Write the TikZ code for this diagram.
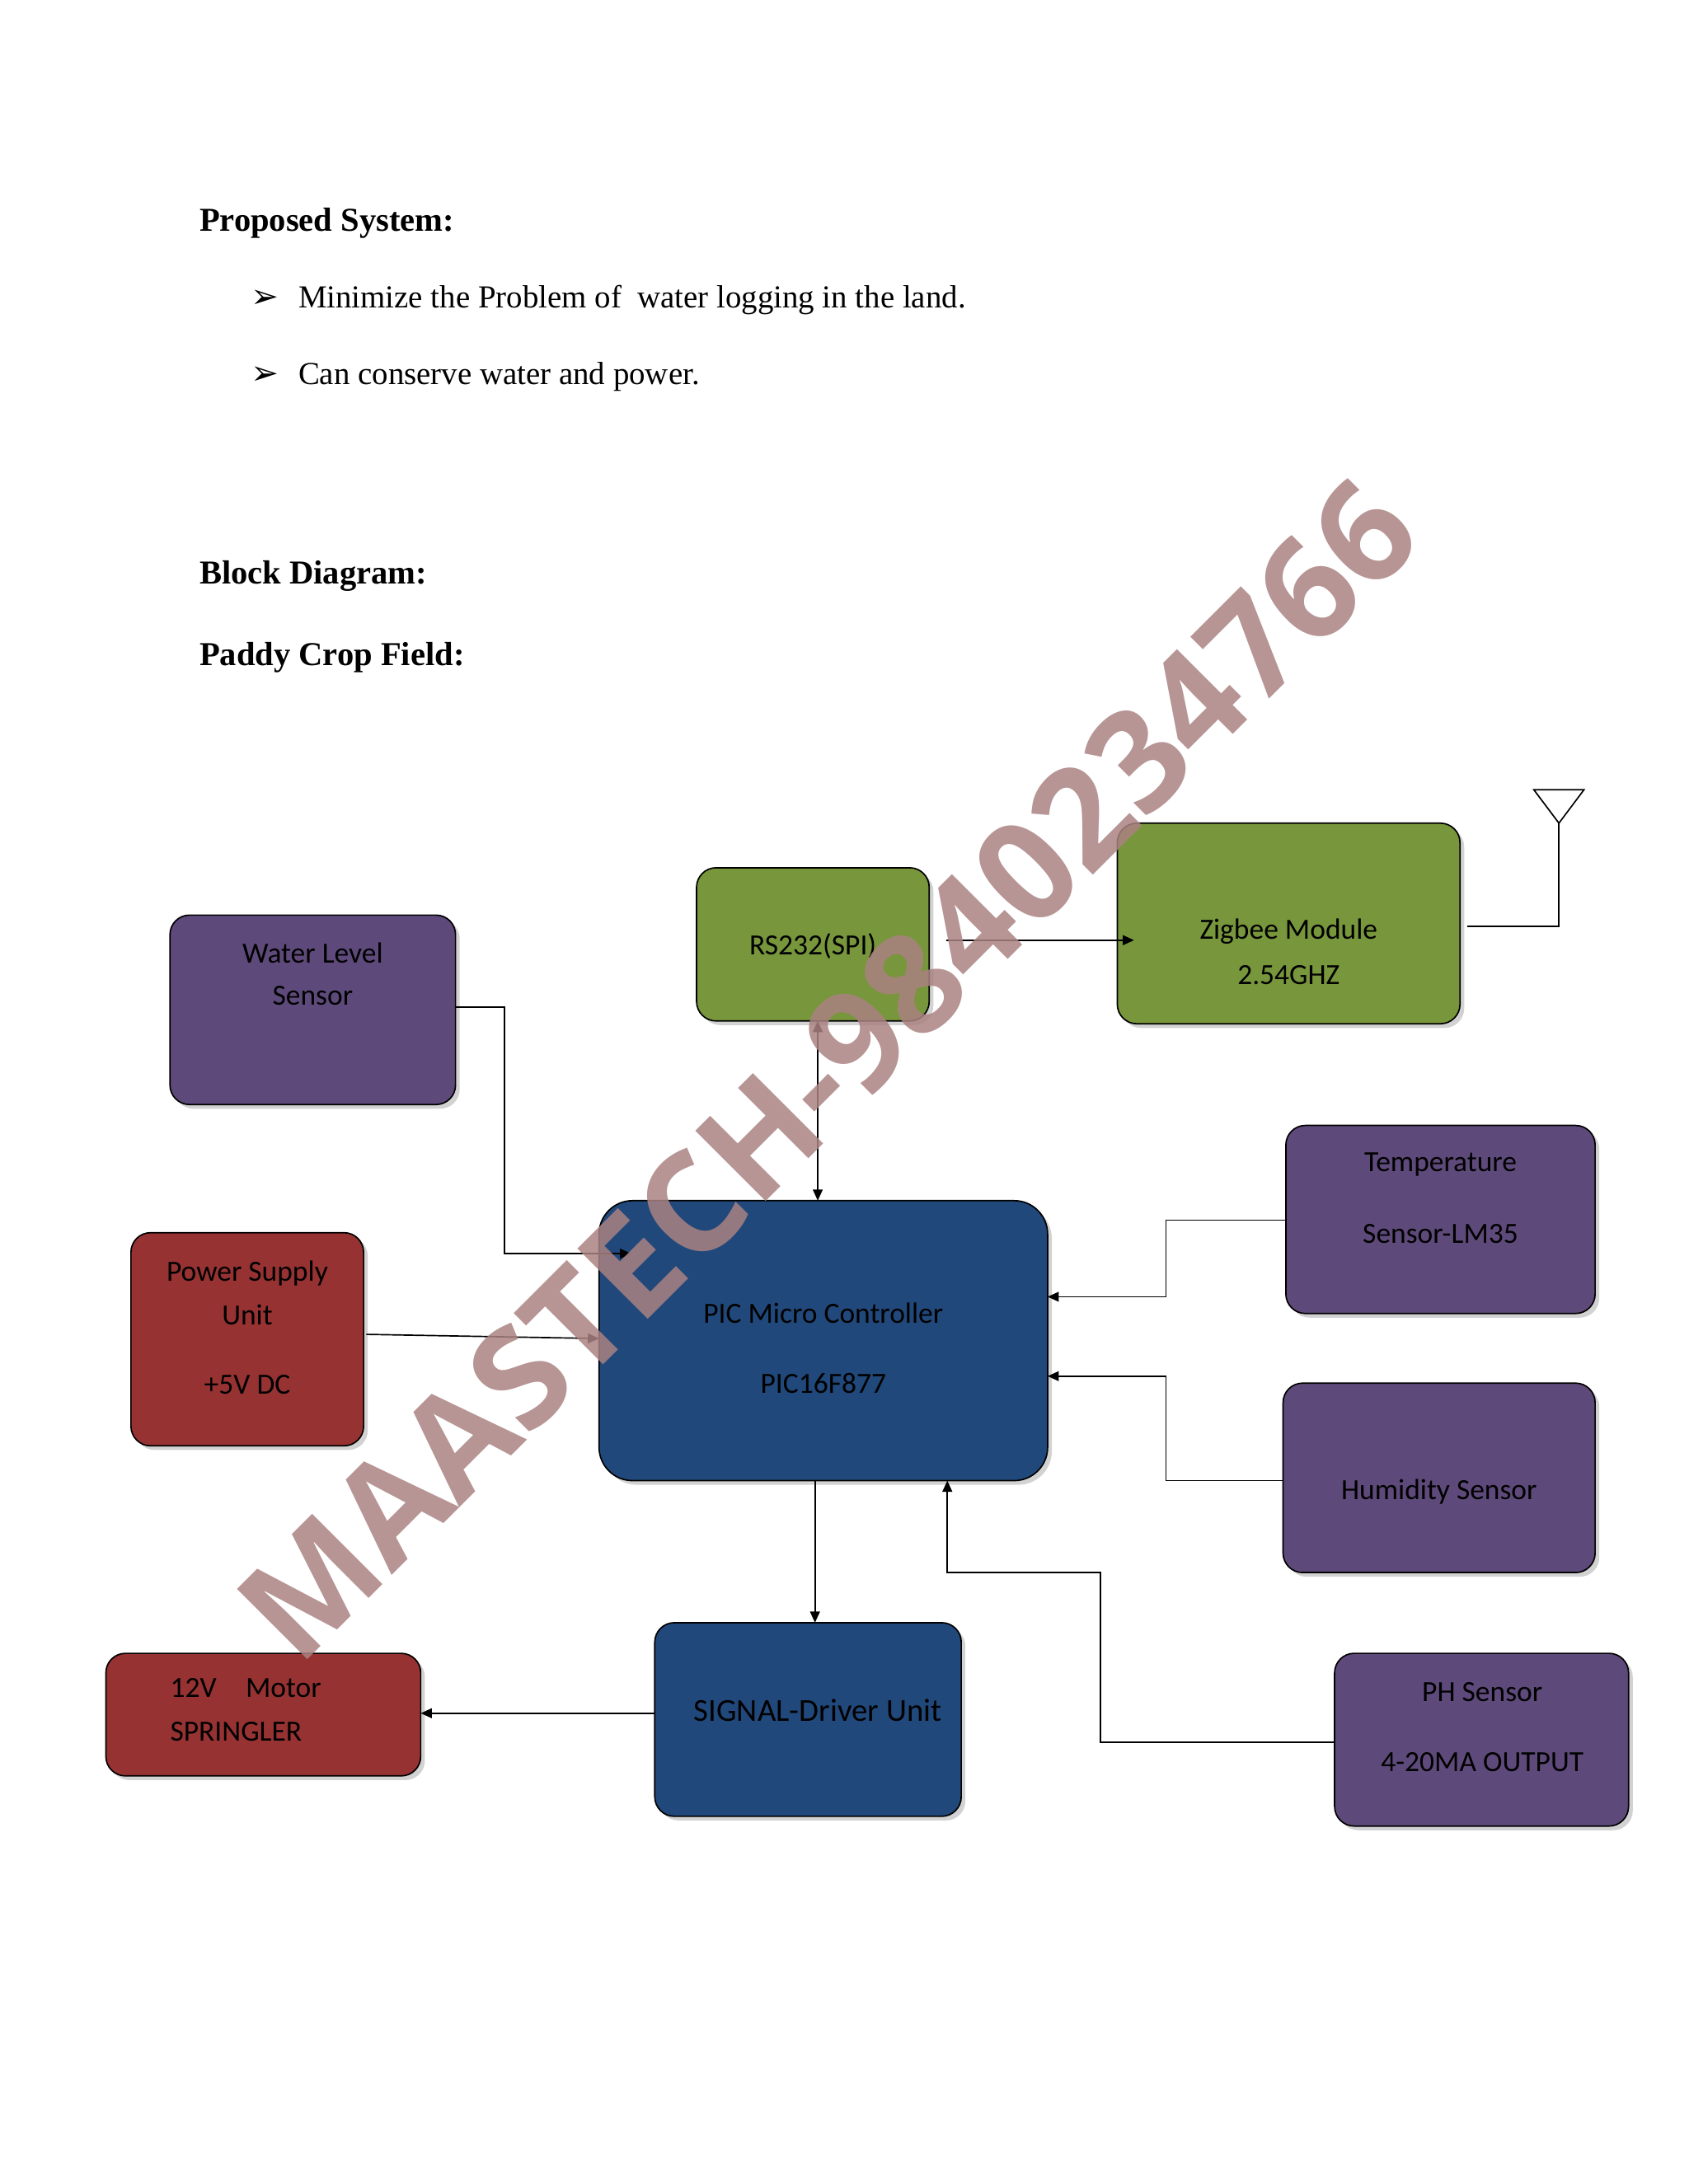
\documentclass[tikz,border=0pt]{standalone}
\usepackage{fontspec}
\setmainfont{Liberation Serif}
\newfontfamily\boxfont{Carlito}
\newfontfamily\symfont{DejaVu Sans}
\newfontfamily\wmfont{Open Sans}
\usetikzlibrary{arrows.meta,shadows}
\definecolor{purp}{RGB}{94,74,122}
\definecolor{grn}{RGB}{120,150,60}
\definecolor{blu}{RGB}{33,72,122}
\definecolor{red1}{RGB}{150,50,50}
\definecolor{wm}{RGB}{170,130,130}
\tikzset{
 blk/.style={draw=black,line width=1pt,rounded corners=14pt,inner sep=0pt,
   drop shadow={shadow xshift=3pt,shadow yshift=-3pt,fill=gray!70}},
 conn/.style={line width=1pt,-{Triangle[length=8pt,width=7pt]}},
 plain/.style={line width=1pt},
 lbl/.style={font=\boxfont\fontsize{21}{25}\selectfont,text=black},
 head/.style={font=\bfseries\fontsize{24}{28}\selectfont,anchor=base west,inner sep=0pt},
 body/.style={font=\fontsize{23}{28}\selectfont,anchor=base west,inner sep=0pt}
}
\begin{document}
\begin{tikzpicture}[x=1pt,y=-1pt]
\useasboundingbox (0,0) rectangle (1212,1568);
% texts
\node[head] (t1) at (143,166) {Proposed System:};
\node[body] (bu1) at (180,221) {\symfont\fontsize{24}{28}\selectfont ➢};
\node[body] (b1) at (214,221) {Minimize the Problem of\ \ water logging in the land.};
\node[body] (bu2) at (180,276) {\symfont\fontsize{24}{28}\selectfont ➢};
\node[body] (b2) at (214,276) {Can conserve water and power.};
\node[head] (t2) at (143,419) {Block Diagram:};
\node[head] (t3) at (143,478) {Paddy Crop Field:};
% boxes
\path[blk,fill=purp] (122,657) rectangle (327,793);
\path[blk,fill=grn] (500,623) rectangle (667,733);
\path[blk,fill=grn] (802,591) rectangle (1048,735);
\path[blk,fill=purp] (923,808) rectangle (1145,943);
\path[blk,fill=red1] (94,885) rectangle (261,1038);
\path[blk,fill=blu,rounded corners=24pt] (430,862) rectangle (752,1063);
\path[blk,fill=purp] (921,993) rectangle (1145,1129);
\path[blk,fill=blu] (470,1165) rectangle (690,1304);
\path[blk,fill=red1] (76,1187) rectangle (302,1275);
\path[blk,fill=purp] (958,1187) rectangle (1169,1311);
% named coordinates
\coordinate (wl) at (327,723); \coordinate (picwl) at (453,900);
\coordinate (ps) at (263,958); \coordinate (picps) at (430,961);
\coordinate (rsb) at (587,733); \coordinate (pict) at (587,862);
\coordinate (rsr) at (679,675); \coordinate (zl) at (814,675);
\coordinate (tl) at (923,876); \coordinate (picr1) at (752,931);
\coordinate (hl) at (921,1063); \coordinate (picr2) at (752,988);
\coordinate (phl) at (958,1251); \coordinate (picb2) at (680,1063);
\coordinate (picb) at (585,1063); \coordinate (sigt) at (585,1165);
\coordinate (sigl) at (470,1230); \coordinate (motr) at (302,1230);
\coordinate (zr) at (1053,665); \coordinate (ant) at (1119,591);
% texts in boxes
\node[lbl] (n1) at (224.5,684) {Water Level};
\node[lbl] (n1b) at (224.5,715) {Sensor};
\node[lbl] (n2) at (583.5,679) {RS232(SPI)};
\node[lbl] (n3) at (925,669) {Zigbee Module};
\node[lbl] (n3b) at (925,700) {2.54GHZ};
\node[lbl] (n4) at (1034,836) {Temperature};
\node[lbl] (n4b) at (1034,886) {Sensor-LM35};
\node[lbl] (n5) at (177.5,914) {Power Supply};
\node[lbl] (n5b) at (177.5,944) {Unit};
\node[lbl] (n5c) at (177.5,994) {+5V DC};
\node[lbl] (n6) at (591,943) {PIC Micro Controller};
\node[lbl] (n6b) at (591,993) {PIC16F877};
\node[lbl] (n7) at (1033,1071) {Humidity Sensor};
\node[lbl,font=\boxfont\fontsize{23}{27}\selectfont] (n8) at (587,1228) {SIGNAL-Driver Unit};
\node[lbl,anchor=west,inner sep=0pt] (n9) at (122,1212) {12V\quad Motor};
\node[lbl,anchor=west,inner sep=0pt] (n9b) at (122,1243) {SPRINGLER};
\node[lbl] (n10) at (1064,1215) {PH Sensor};
\node[lbl] (n10b) at (1064,1265) {4-20MA OUTPUT};
% connectors
\draw[conn] (wl) -| (362,900) -- (picwl);
\draw[conn] (ps) -- (picps);
\draw[conn,{Triangle[length=8pt,width=7pt]}-{Triangle[length=8pt,width=7pt]}] (rsb) -- (pict);
\draw[conn] (rsr) -- (zl);
\draw[conn] (tl) -| (837,931) -- (picr1);
\draw[conn] (hl) -| (837,988) -- (picr2);
\draw[conn] (phl) -| (790,1129) -| (picb2);
\draw[conn] (picb) -- (sigt);
\draw[conn] (sigl) -- (motr);
\draw[plain] (zr) -| (ant);
\draw[plain] (1101,567) -- (1137,567) -- (ant) -- cycle;
% watermark
\node[font=\wmfont\bfseries\fontsize{100}{100}\selectfont,text=wm,opacity=0.85,rotate=45] (wmk) at (594,768) {MAASTECH-9840234766};
\end{tikzpicture}
\end{document}
